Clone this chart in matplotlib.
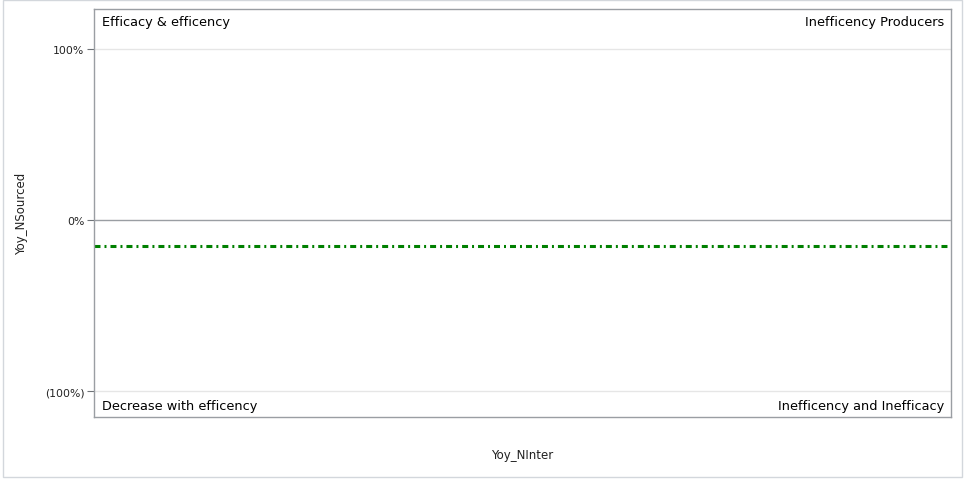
import matplotlib.pyplot as plt
from matplotlib.patches import Rectangle
from matplotlib.ticker import FuncFormatter

# reference line value (Yoy_NSourced)
ref_value = -0.15
y_ticks = [-1.0, 0.0, 1.0]
quadrant_labels = {
    'tl': 'Efficacy & efficency',
    'tr': 'Inefficency Producers',
    'bl': 'Decrease with efficency',
    'br': 'Inefficency and Inefficacy',
}

W, H = 965, 481
fig = plt.figure(figsize=(W / 100, H / 100), dpi=100)
fig.patches.append(Rectangle((3 / W, 3 / H), 959 / W, 1 - 4 / H, transform=fig.transFigure,
                             fill=False, edgecolor='#d3d7dc', linewidth=1))

ax = fig.add_axes([94 / W, 1 - 418 / H, (951 - 94) / W, (418 - 10) / H])
ax.set_xlim(0, 1)
ax.set_ylim(-1.152, 1.234)

for s in ax.spines.values():
    s.set_color('#9a9ea3')
    s.set_linewidth(1)

ax.set_yticks(y_ticks)
ax.yaxis.set_major_formatter(FuncFormatter(
    lambda v, p: '0%' if v == 0 else ('(%d%%)' % abs(round(v * 100)) if v < 0 else '%d%%' % round(v * 100))))
ax.tick_params(axis='y', length=5, color='#6e7277', labelsize=7.8, labelcolor='#222222', pad=2)
ax.set_xticks([])

for v in y_ticks:
    if v == 0:
        ax.axhline(v, color='#9a9ea3', linewidth=1, zorder=1)
    else:
        ax.axhline(v, color='#e6e6e6', linewidth=1, zorder=1)

ax.axhline(ref_value, color='#008000', linewidth=2.2, dashes=(1.96, 1.31, 0.65, 1.31), zorder=2)

fs = 9.3
ax.text(0.009, 0.985, quadrant_labels['tl'], transform=ax.transAxes, ha='left', va='top', fontsize=fs)
ax.text(0.992, 0.985, quadrant_labels['tr'], transform=ax.transAxes, ha='right', va='top', fontsize=fs)
ax.text(0.009, 0.012, quadrant_labels['bl'], transform=ax.transAxes, ha='left', va='bottom', fontsize=fs)
ax.text(0.992, 0.012, quadrant_labels['br'], transform=ax.transAxes, ha='right', va='bottom', fontsize=fs)

ax.set_xlabel('Yoy_NInter', fontsize=8.5, color='#222222', labelpad=22)
ax.set_ylabel('Yoy_NSourced', fontsize=8.5, color='#222222', labelpad=12)

plt.savefig('out.png', dpi=100)
